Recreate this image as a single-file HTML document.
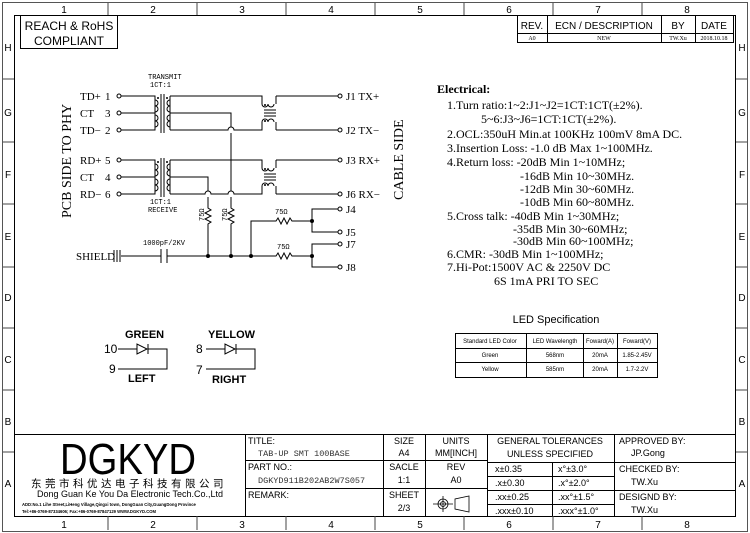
<!DOCTYPE html>
<html><head><meta charset="utf-8"><style>
body{margin:0;background:#fff}
svg{display:block}
.s{font-family:"Liberation Serif",serif}
.a{font-family:"Liberation Sans",sans-serif}
</style></head><body>
<svg width="750" height="533" viewBox="0 0 750 533" xmlns="http://www.w3.org/2000/svg" font-family="Liberation Sans, sans-serif">
<g fill="none" stroke="#000" stroke-width="1">
<rect x="2.5" y="2.5" width="745" height="529" stroke="#555"/>
<rect x="14.5" y="15.5" width="721" height="501"/>
<!-- zone ticks -->
<path d="M108 3V15M197 3V15M286 3V15M375 3V15M464 3V15M553 3V15M642 3V15
M108 516V530M197 516V530M286 516V530M375 516V530M464 516V530M553 516V530M642 516V530
M3 79H14M3 142H14M3 204H14M3 267H14M3 328H14M3 390H14M3 452H14
M736 79H747M736 142H747M736 204H747M736 267H747M736 328H747M736 390H747M736 452H747" stroke="#444"/>
<!-- REACH box -->
<rect x="20.5" y="15.5" width="97" height="33"/>
<!-- rev table -->
<rect x="517.5" y="15.5" width="216" height="27"/>
<path d="M517 33.5H733M547.5 15V42M661.5 15V42M695.5 15V42"/>
<!-- title block -->
<path d="M14 434.5H736M245.5 434V516M383.5 434V516M425.5 434V516M487.5 434V516M614.5 434V516
M245 460.5H487M245 488.5H487M487 462.5H736M487 476.5H614M487 490.5H736M487 504.5H614M552.5 462V516"/>
</g>
<g font-size="10" text-anchor="middle" fill="#000">
<text x="64" y="13">1</text><text x="153" y="13">2</text><text x="242" y="13">3</text><text x="331" y="13">4</text><text x="420" y="13">5</text><text x="509" y="13">6</text><text x="598" y="13">7</text><text x="687" y="13">8</text>
<text x="64" y="528">1</text><text x="153" y="528">2</text><text x="242" y="528">3</text><text x="331" y="528">4</text><text x="420" y="528">5</text><text x="509" y="528">6</text><text x="598" y="528">7</text><text x="687" y="528">8</text>
<text x="8" y="51">H</text><text x="8" y="116">G</text><text x="8" y="178">F</text><text x="8" y="240">E</text><text x="8" y="301">D</text><text x="8" y="363">C</text><text x="8" y="425">B</text><text x="8" y="487">A</text>
<text x="742" y="51">H</text><text x="742" y="116">G</text><text x="742" y="178">F</text><text x="742" y="240">E</text><text x="742" y="301">D</text><text x="742" y="363">C</text><text x="742" y="425">B</text><text x="742" y="487">A</text>
</g>
<g font-size="12" text-anchor="middle"><text x="69" y="30">REACH &amp; RoHS</text><text x="69" y="45">COMPLIANT</text></g>
<g font-size="10" text-anchor="middle">
<text x="532" y="29">REV.</text><text x="604" y="29">ECN / DESCRIPTION</text><text x="678" y="29">BY</text><text x="714" y="29">DATE</text>
</g>
<g font-size="6" text-anchor="middle" class="s" font-family="Liberation Serif,serif">
<text x="532" y="40">A0</text><text x="604" y="40">NEW</text><text x="678" y="40">TW.Xu</text><text x="714" y="40">2018.10.18</text>
</g>

<!-- schematic -->
<g fill="none" stroke="#000" stroke-width="1">
<circle cx="119" cy="96" r="2"/><circle cx="119" cy="113" r="2"/><circle cx="119" cy="130" r="2"/>
<circle cx="119" cy="160" r="2"/><circle cx="119" cy="177" r="2"/><circle cx="119" cy="194" r="2"/>
<path d="M121 96H155V130H121M121 113H155"/>
<path d="M121 160H155V194H121M121 177H155"/>
<path d="M161 94V133M164 94V133M161 158V197M164 158V197"/>
<!-- coil humps -->
<path d="M155 100a3 3 0 0 1 0 6a3 3 0 0 1 0 6M155 115a3 3 0 0 1 0 6a3 3 0 0 1 0 6M170 100a3 3 0 0 0 0 6a3 3 0 0 0 0 6M170 115a3 3 0 0 0 0 6a3 3 0 0 0 0 6"/>
<path d="M155 164a3 3 0 0 1 0 6a3 3 0 0 1 0 6M155 179a3 3 0 0 1 0 6a3 3 0 0 1 0 6M170 164a3 3 0 0 0 0 6a3 3 0 0 0 0 6M170 179a3 3 0 0 0 0 6a3 3 0 0 0 0 6"/>
<path d="M170 96V130M170 160V194"/>
<path d="M170 96H262V104M170 130H228a3 3 0 0 1 6 0H262V122M170 113H231V127"/>
<path d="M170 160H262V168M170 177H208V191M170 194H205a3 3 0 0 1 6 0H228a3 3 0 0 1 6 0H262V186"/>
<path d="M231 133V191M231 197V208l3 2-6 3 6 3-6 3 6 3-3 2V256M208 197V208l3 2-6 3 6 3-6 3 6 3-3 2V256"/>
<!-- choke right -->
<path d="M262 104a3 3 0 0 0 6 0a3 3 0 0 0 6 0M262 122a3 3 0 0 1 6 0a3 3 0 0 1 6 0M264 110H276M264 113H276M264 116H276M276 96V104M276 122V130M276 96H338M276 130H338"/>
<path d="M262 168a3 3 0 0 0 6 0a3 3 0 0 0 6 0M262 186a3 3 0 0 1 6 0a3 3 0 0 1 6 0M264 174H276M264 177H276M264 180H276M276 160V168M276 186V194M276 160H338M276 194H338"/>
<circle cx="340" cy="96" r="2"/><circle cx="340" cy="130" r="2"/><circle cx="340" cy="160" r="2"/><circle cx="340" cy="194" r="2"/>
<circle cx="340" cy="209" r="2"/><circle cx="340" cy="232" r="2"/><circle cx="340" cy="244" r="2"/><circle cx="340" cy="267" r="2"/>
<path d="M338 209H312V232H338M338 244H312V267H338"/>
<path d="M251 256V221H276l2-3 3 6 3-6 3 6 3-6 2 3H312M251 256H276l2-3 3 6 3-6 3 6 3-6 2 3H312"/>
<path d="M121 256H161M167 256H251M161 249V263M167 249V263M114 250V262M117 250V262M120 250V262"/>
</g>
<g fill="#000"><circle cx="208" cy="256" r="2"/><circle cx="231" cy="256" r="2"/><circle cx="251" cy="256" r="2"/><circle cx="312" cy="221" r="2"/><circle cx="312" cy="256" r="2"/>
<circle cx="158" cy="98" r="1"/><circle cx="167" cy="98" r="1"/><circle cx="158" cy="162" r="1"/><circle cx="167" cy="162" r="1"/><circle cx="265" cy="105" r="1"/><circle cx="265" cy="121" r="1"/><circle cx="265" cy="169" r="1"/><circle cx="265" cy="185" r="1"/></g>
<g font-family="Liberation Serif,serif" font-size="11">
<text x="80" y="100">TD+</text><text x="105" y="100">1</text>
<text x="80" y="117">CT</text><text x="105" y="117">3</text>
<text x="80" y="134">TD−</text><text x="105" y="134">2</text>
<text x="80" y="164">RD+</text><text x="105" y="164">5</text>
<text x="80" y="181">CT</text><text x="105" y="181">4</text>
<text x="80" y="198">RD−</text><text x="105" y="198">6</text>
<text x="346" y="100">J1  TX+</text><text x="346" y="134">J2  TX−</text>
<text x="346" y="164">J3  RX+</text><text x="346" y="198">J6  RX−</text>
<text x="346" y="213">J4</text><text x="346" y="236">J5</text><text x="346" y="248">J7</text><text x="346" y="271">J8</text>
<text x="76" y="260">SHIELD</text>
</g>
<g font-family="Liberation Mono,monospace" font-size="7">
<text x="148" y="79">TRANSMIT</text><text x="150" y="87">1CT:1</text>
<text x="150" y="204">1CT:1</text><text x="148" y="212">RECEIVE</text>
<text x="143" y="245">1000pF/2KV</text>
<text x="275" y="214">75Ω</text><text x="277" y="249">75Ω</text>
<text transform="translate(204,221) rotate(-90)">75Ω</text>
<text transform="translate(227,221) rotate(-90)">75Ω</text>
</g>
<text transform="translate(71,218) rotate(-90)" font-family="Liberation Serif,serif" font-size="14">PCB SIDE TO PHY</text>
<text transform="translate(403,200) rotate(-90)" font-family="Liberation Serif,serif" font-size="14">CABLE SIDE</text>

<!-- Electrical -->
<g font-family="Liberation Serif,serif" font-size="12">
<text x="437" y="93" font-weight="bold">Electrical:</text>
<text x="447" y="109">1.Turn ratio:1~2:J1~J2=1CT:1CT(±2%).</text>
<text x="481" y="123">5~6:J3~J6=1CT:1CT(±2%).</text>
<text x="447" y="138">2.OCL:350uH Min.at 100KHz 100mV 8mA DC.</text>
<text x="447" y="152">3.Insertion Loss: -1.0 dB Max 1~100MHz.</text>
<text x="447" y="166">4.Return loss: -20dB Min 1~10MHz;</text>
<text x="520" y="180">-16dB Min 10~30MHz.</text>
<text x="520" y="193">-12dB Min 30~60MHz.</text>
<text x="520" y="206">-10dB Min 60~80MHz.</text>
<text x="447" y="220">5.Cross talk: -40dB Min 1~30MHz;</text>
<text x="513" y="233">-35dB Min 30~60MHz;</text>
<text x="513" y="245">-30dB Min 60~100MHz;</text>
<text x="447" y="258">6.CMR: -30dB Min 1~100MHz;</text>
<text x="447" y="271">7.Hi-Pot:1500V AC &amp; 2250V DC</text>
<text x="494" y="285">6S 1mA PRI TO SEC</text>
</g>
<!-- LED spec -->
<text x="556" y="323" font-size="11" text-anchor="middle">LED Specification</text>
<g fill="none" stroke="#000"><rect x="455.5" y="333.5" width="202" height="44"/><path d="M455 348.5H657M455 362.5H657M526.5 333V377M583.5 333V377M617.5 333V377"/></g>
<g font-size="6" text-anchor="middle">
<text x="490" y="343">Standard LED Color</text><text x="555" y="343">LED Wavelength</text><text x="600" y="343">Foward(A)</text><text x="637" y="343">Foward(V)</text>
<text x="490" y="357">Green</text><text x="555" y="357">568nm</text><text x="600" y="357">20mA</text><text x="637" y="357">1.85-2.45V</text>
<text x="490" y="371">Yellow</text><text x="555" y="371">585nm</text><text x="600" y="371">20mA</text><text x="637" y="371">1.7-2.2V</text>
</g>
<!-- LEDs -->
<g fill="none" stroke="#000"><path d="M118 349H137M148 349H167V369H118M137 344V354L147 349ZM148 344V354"/>
<path d="M206 349H225M236 349H255V369H206M225 344V354L235 349ZM236 344V354"/></g>
<g font-family="Liberation Sans Narrow,Liberation Sans,sans-serif" font-size="11" font-weight="bold">
<text x="125" y="338">GREEN</text><text x="128" y="382">LEFT</text>
<text x="208" y="338">YELLOW</text><text x="212" y="383">RIGHT</text></g>
<g font-size="12"><text x="104" y="353">10</text><text x="109" y="373">9</text><text x="196" y="353">8</text><text x="196" y="374">7</text></g>

<!-- title block text -->
<text x="128" y="474" font-size="44" text-anchor="middle" textLength="136" lengthAdjust="spacingAndGlyphs">DGKYD</text>
<text x="129" y="487" font-size="10.5" text-anchor="middle" font-family="Liberation Sans,Noto Sans CJK SC,sans-serif" letter-spacing="3.5">东莞市科优达电子科技有限公司</text>
<text x="130" y="497" font-size="9" text-anchor="middle">Dong Guan Ke You Da Electronic Tech.Co.,Ltd</text>
<text x="22" y="506" font-size="4.2" font-weight="bold">ADD:No.1 Lihe Street,LiHeng Village,Qingxi town, DongGuan City,GuangDong Province</text>
<text x="22" y="513" font-size="4.2" font-weight="bold">Tel:+86-0769-87334606; Fax:+86-0769-87847129  WWW.DGKYD.COM</text>
<g font-size="9">
<text x="248" y="444">TITLE:</text><text x="248" y="470">PART NO.:</text><text x="248" y="498">REMARK:</text>
<text x="404" y="444" text-anchor="middle">SIZE</text><text x="404" y="456" text-anchor="middle">A4</text>
<text x="404" y="470" text-anchor="middle">SACLE</text><text x="404" y="483" text-anchor="middle">1:1</text>
<text x="404" y="498" text-anchor="middle">SHEET</text><text x="404" y="511" text-anchor="middle">2/3</text>
<text x="456" y="444" text-anchor="middle">UNITS</text><text x="456" y="456" text-anchor="middle">MM[INCH]</text>
<text x="456" y="470" text-anchor="middle">REV</text><text x="456" y="483" text-anchor="middle">A0</text>
<text x="550" y="444" text-anchor="middle">GENERAL TOLERANCES</text><text x="550" y="457" text-anchor="middle">UNLESS SPECIFIED</text>
<text x="495" y="472">x±0.35</text><text x="558" y="472">x°±3.0°</text>
<text x="495" y="486">.x±0.30</text><text x="558" y="486">.x°±2.0°</text>
<text x="495" y="500">.xx±0.25</text><text x="558" y="500">.xx°±1.5°</text>
<text x="495" y="514">.xxx±0.10</text><text x="558" y="514">.xxx°±1.0°</text>
<text x="619" y="444">APPROVED BY:</text><text x="631" y="456">JP.Gong</text>
<text x="619" y="472">CHECKED BY:</text><text x="631" y="485">TW.Xu</text>
<text x="619" y="500">DESIGND BY:</text><text x="631" y="513">TW.Xu</text>
</g>
<g font-family="Liberation Mono,monospace" font-size="8.5" fill="#333">
<text x="258" y="456">TAB-UP SMT 100BASE</text><text x="258" y="483">DGKYD911B202AB2W7S057</text></g>
<g fill="none" stroke="#000" stroke-width="0.8"><circle cx="443" cy="504" r="5"/><circle cx="443" cy="504" r="2.5"/><path d="M433 504H453M443 496V512M455 499V509L469 512V496Z"/></g>
</svg>
</body></html>
